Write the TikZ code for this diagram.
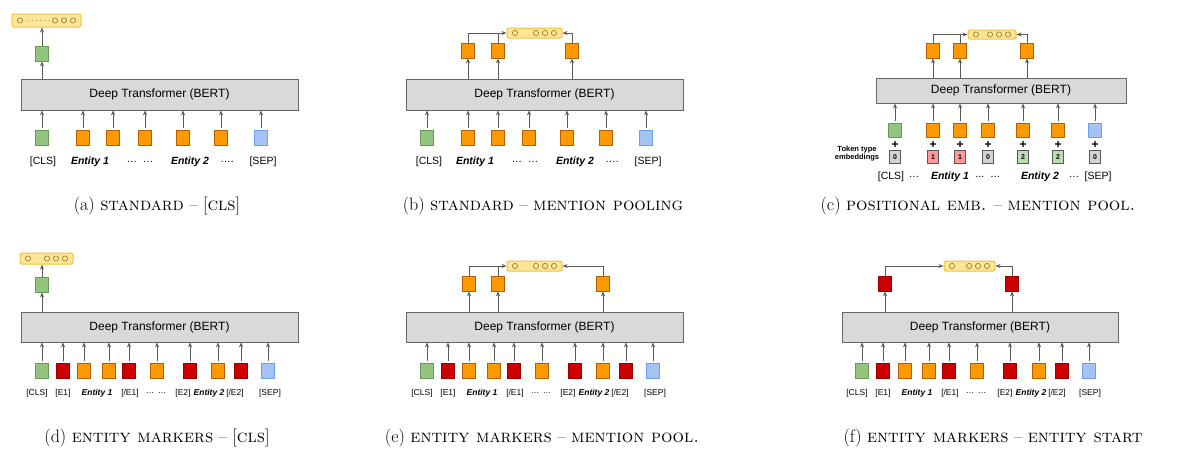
\documentclass[tikz,border=0pt]{standalone}
\usepackage{fontspec}
\newfontfamily\sansf{Liberation Sans}
\usetikzlibrary{arrows.meta}
\definecolor{cgreen}{HTML}{93C47D}\definecolor{cgreenD}{HTML}{6A9955}
\definecolor{corange}{HTML}{FF9900}\definecolor{corangeD}{HTML}{B45F06}
\definecolor{cred}{HTML}{CC0000}\definecolor{credD}{HTML}{990000}
\definecolor{cblue}{HTML}{A4C2F4}\definecolor{cblueD}{HTML}{6D9EEB}
\definecolor{cyel}{HTML}{FFE599}\definecolor{cyelD}{HTML}{F1C232}
\definecolor{cline}{HTML}{595959}
\tikzset{
  tok/.style={draw, minimum width=13pt, minimum height=15pt, inner sep=0pt, line width=0.7pt},
  g/.style={tok, fill=cgreen, draw=cgreenD},
  o/.style={tok, fill=corange, draw=corangeD},
  r/.style={tok, fill=cred, draw=credD},
  b/.style={tok, fill=cblue, draw=cblueD},
  bert/.style={draw=gray!80!black, fill=gray!30, line width=0.8pt, inner sep=0pt, font=\sansf\fontsize{12}{12}\selectfont},
  yel/.style={draw=cyelD, fill=cyel, rounded corners=2pt, line width=1pt, inner sep=0pt},
  arr/.style={draw=cline, line width=0.9pt, -{Stealth[length=5pt,width=4pt]}},
  lbl/.style={font=\sansf\fontsize{10.5}{10.5}\selectfont, inner sep=0pt},
  slbl/.style={font=\sansf\fontsize{8.5}{8.5}\selectfont, inner sep=0pt},
  subcap/.style={font=\fontsize{18}{18}\selectfont, inner sep=0pt},
  tt/.style={draw=gray!70!black, line width=0.6pt, minimum width=11pt, minimum height=13pt, inner sep=0pt, font=\sansf\bfseries\fontsize{7}{7}\selectfont},
}
% output vector: name, left x, right x, top y, bottom y, dots
\newcommand\outvec[6]{%
  \pgfmathsetmacro\vw{#3-#2}\pgfmathsetmacro\vh{#5-#4}%
  \node[yel, minimum width=\vw pt, minimum height=\vh pt] (#1) at ({(#2+#3)/2},{(#4+#5)/2}) {};
  \foreach \cx in {#2+8,#3-8,#3-17,#3-26}
    \draw[cyelD!60!black, line width=0.6pt, fill=cyel] (\cx,{(#4+#5)/2}) circle (2.6pt);
  \ifx#6y\foreach \k in {0,...,5}
    \fill[cyelD!60!black] ({#2+16+\k*(#3-#2-48)/5},{(#4+#5)/2}) circle (0.5pt);\fi
}
\begin{document}
\begin{tikzpicture}[x=1pt,y=-1pt]
\useasboundingbox (0,0) rectangle (1195,451);

% ---------- (a)
\node[bert, minimum width=277pt, minimum height=31pt] (A) at (159.5,94.5) {Deep Transformer (BERT)};
\foreach \x/\s [count=\i] in {42/g,83/o,113/o,145/o,183/o,221/o,261/b}
  {\node[\s] (a\i) at (\x,137.5) {}; \draw[arr] ([yshift=2pt]a\i.north) -- (a\i |- A.south);}
\node[g] (ao) at (42,53.5) {};
\outvec{av}{12}{81}{14}{27}{y}
\draw[arr] (ao |- A.north) -- (ao.south);
\draw[arr] (ao.north) -- (ao |- av.south);
\node[lbl] at (43,162) {[CLS]};
\node[lbl] at (90,162) {\bfseries\itshape Entity 1};
\node[lbl] at (140,162) {\dots\ \ \dots};
\node[lbl] at (190,162) {\bfseries\itshape Entity 2};
\node[lbl] at (227,162) {\dots .};
\node[lbl] at (263,162) {[SEP]};
\node[subcap] at (157,206) {(a) \textsc{standard} -- [\textsc{cls}]};

% ---------- (b)
\node[bert, minimum width=277pt, minimum height=31pt] (B) at (544.5,94.5) {Deep Transformer (BERT)};
\foreach \x/\s [count=\i] in {427/g,468/o,498/o,529/o,567/o,606/o,646/b}
  {\node[\s] (b\i) at (\x,137.5) {}; \draw[arr] ([yshift=2pt]b\i.north) -- (b\i |- B.south);}
\outvec{bv}{507}{562}{28}{38}{n}
\foreach \x [count=\i] in {468,498,572}
  {\node[o] (bo\i) at (\x,50.5) {}; \draw[arr] (bo\i |- B.north) -- (bo\i.south);}
\draw[arr] (bo1.north) |- (bv.west);
\draw[draw=cline, line width=0.9pt] (bo2.north) -- (bo2 |- bv.west);
\draw[arr] (bo3.north) |- (bv.east);
\node[lbl] at (429,162) {[CLS]};
\node[lbl] at (475,162) {\bfseries\itshape Entity 1};
\node[lbl] at (525,162) {\dots\ \ \dots};
\node[lbl] at (575,162) {\bfseries\itshape Entity 2};
\node[lbl] at (612,162) {\dots .};
\node[lbl] at (648,162) {[SEP]};
\node[subcap] at (543,206) {(b) \textsc{standard} -- \textsc{mention pooling}};

% ---------- (c)
\node[bert, minimum width=250pt, minimum height=25pt] (C) at (1001,90.5) {Deep Transformer (BERT)};
\foreach \x/\s/\n/\c [count=\i] in {895/g/0/gray!35,933/o/1/red!40,960/o/1/red!40,988/o/0/gray!35,1023/o/2/cgreen!60,1058/o/2/cgreen!60,1095/b/0/gray!35}
  {\node[\s, minimum height=14pt] (c\i) at (\x,130) {};
   \draw[arr] ([yshift=2pt]c\i.north) -- (c\i |- C.south);
   \node[font=\sansf\bfseries\fontsize{12}{12}\selectfont, inner sep=0pt] at (\x,145) {+};
   \node[tt, fill=\c] (ct\i) at (\x,157) {\n};}
\node[font=\sansf\bfseries\fontsize{7.5}{8}\selectfont, align=center, inner sep=0pt] at (857,153.5) {Token type\\embeddings};
\outvec{cv}{968}{1016}{30}{39}{n}
\foreach \x [count=\i] in {933,960,1027}
  {\node[o] (co\i) at (\x,50.5) {}; \draw[arr] (co\i |- C.north) -- (co\i.south);}
\draw[arr] (co1.north) |- (cv.west);
\draw[draw=cline, line width=0.9pt] (co2.north) -- (co2 |- cv.west);
\draw[arr] (co3.north) |- (cv.east);
\node[lbl] at (891,177) {[CLS]};
\node[lbl] at (914,177) {\dots};
\node[lbl] at (950,177) {\bfseries\itshape Entity 1};
\node[lbl] at (988,177) {...\ \ \dots};
\node[lbl] at (1040,177) {\bfseries\itshape Entity 2};
\node[lbl] at (1074,177) {\dots};
\node[lbl] at (1098,177) {[SEP]};
\node[subcap] at (978,206) {(c) \textsc{positional emb.} -- \textsc{mention pool.}};

% ---------- (d)
\node[bert, minimum width=277pt, minimum height=30pt] (D) at (159.5,327) {Deep Transformer (BERT)};
\foreach \x/\s [count=\i] in {42/g,63/r,84/o,109/o,129/r,157/o,190/r,218/o,241/r,268/b}
  {\node[\s] (d\i) at (\x,370.5) {}; \draw[arr] ([yshift=2pt]d\i.north) -- (d\i |- D.south);}
\node[g] (do) at (42,284.5) {};
\outvec{dv}{20}{73}{253}{264}{n}
\draw[arr] (do |- D.north) -- (do.south);
\draw[arr] (do.north) -- (do |- dv.south);
\foreach \x/\t in {37/[CLS],63/[E1],97/{\bfseries\itshape Entity 1},130/{[/E1]},150/\dots,162/\dots,183/[E2],209/{\bfseries\itshape Entity 2},235/{[/E2]},270/[SEP]}
  \node[slbl] at (\x,393) {\t};
\node[subcap] at (157,438) {(d) \textsc{entity markers} -- [\textsc{cls}]};

% ---------- (e)
\node[bert, minimum width=277pt, minimum height=30pt] (E) at (544.5,327) {Deep Transformer (BERT)};
\foreach \x/\s [count=\i] in {427/g,448/r,469/o,494/o,514/r,542/o,575/r,603/o,626/r,653/b}
  {\node[\s] (e\i) at (\x,370.5) {}; \draw[arr] ([yshift=2pt]e\i.north) -- (e\i |- E.south);}
\outvec{ev}{507}{562}{261}{271}{n}
\foreach \x [count=\i] in {469,498,603}
  {\node[o] (eo\i) at (\x,283.5) {}; \draw[arr] (eo\i |- E.north) -- (eo\i.south);}
\draw[arr] (eo1.north) |- (ev.west);
\draw[draw=cline, line width=0.9pt] (eo2.north) -- (eo2 |- ev.west);
\draw[arr] (eo3.north) |- (ev.east);
\foreach \x/\t in {422/[CLS],448/[E1],482/{\bfseries\itshape Entity 1},515/{[/E1]},535/\dots,547/\dots,568/[E2],594/{\bfseries\itshape Entity 2},620/{[/E2]},655/[SEP]}
  \node[slbl] at (\x,393) {\t};
\node[subcap] at (542,438) {(e) \textsc{entity markers} -- \textsc{mention pool.}};

% ---------- (f)
\node[bert, minimum width=276pt, minimum height=30pt] (F) at (980,327) {Deep Transformer (BERT)};
\foreach \x/\s [count=\i] in {862/g,883/r,905/o,929/o,949/r,977/o,1010/r,1039/o,1062/r,1089/b}
  {\node[\s] (f\i) at (\x,370.5) {}; \draw[arr] ([yshift=2pt]f\i.north) -- (f\i |- F.south);}
\outvec{fv}{944}{995}{261}{271}{n}
\foreach \x [count=\i] in {885,1012}
  {\node[r] (fo\i) at (\x,283.5) {}; \draw[arr] (fo\i |- F.north) -- (fo\i.south);}
\draw[arr] (fo1.north) |- (fv.west);
\draw[arr] (fo2.north) |- (fv.east);
\foreach \x/\t in {857/[CLS],883/[E1],917/{\bfseries\itshape Entity 1},950/{[/E1]},970/\dots,982/\dots,1005/[E2],1031/{\bfseries\itshape Entity 2},1057/{[/E2]},1090/[SEP]}
  \node[slbl] at (\x,393) {\t};
\node[subcap] at (993,438) {(f) \textsc{entity markers} -- \textsc{entity start}};
\end{tikzpicture}
\end{document}
